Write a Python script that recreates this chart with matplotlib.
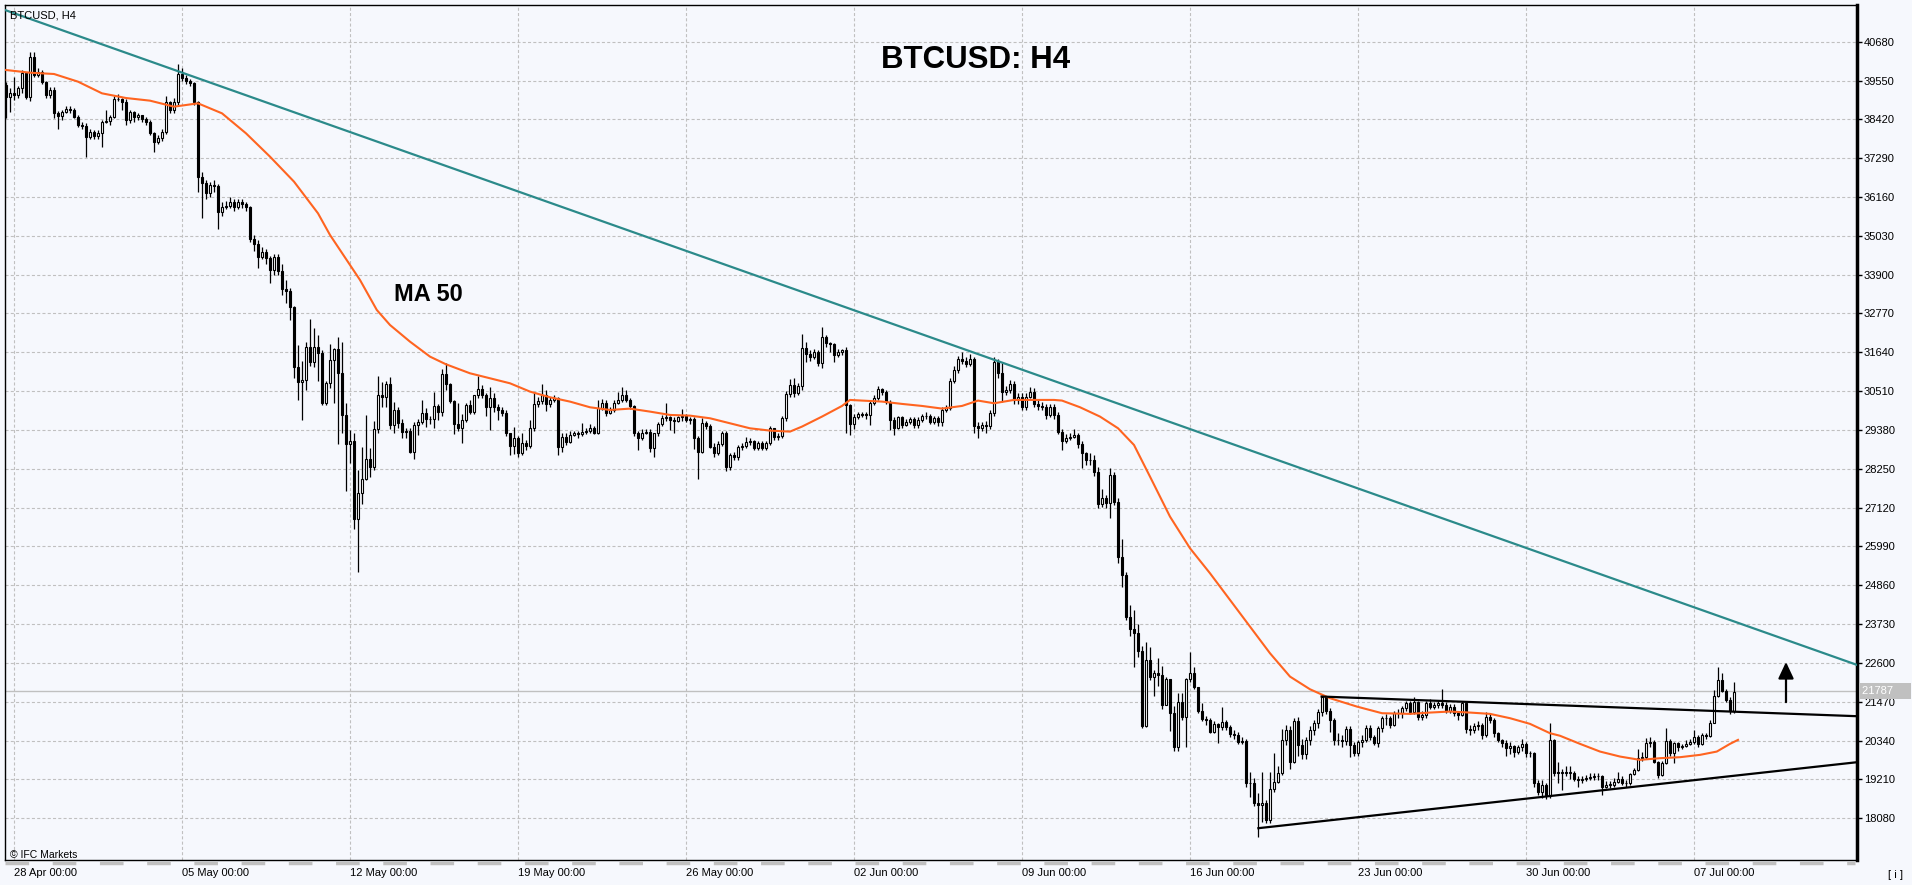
import numpy as np
import matplotlib.pyplot as plt
import matplotlib.transforms as mtransforms
from matplotlib.lines import Line2D

plt.rcParams['font.family'] = ['Liberation Sans', 'DejaVu Sans']
plt.rcParams['lines.scale_dashes'] = False

# H4 candles, first one is 27 Apr 16:00, one value per 4h bar
first_open = 39420
closes = [
    39080, 39196, 39130, 39323, 39759, 39080, 40244, 39711, 39808, 39516,
    39128, 39274, 38595, 38517, 38643, 38712, 38692, 38498, 38255, 38230,
    37897, 38042, 37945, 38013, 38353, 38380, 38479, 39002, 39022, 38925,
    38400, 38620, 38500, 38547, 38420, 38353, 38013, 37771, 37868, 38062,
    38934, 38692, 38934, 39740, 39614, 39546, 39468, 38934, 36752, 36560,
    36267, 36510, 36480, 35714, 35879, 35908, 36005, 35860, 36005, 35957,
    35860, 34938, 34783, 34424, 34550, 34375, 34036, 34424, 34017, 33473,
    33435, 32969, 31223, 30787, 30825, 31786, 31368, 31786, 31630, 30175,
    30738, 31417, 31737, 31029, 29817, 28963, 29070, 26780, 27537, 27944,
    28526, 28313, 29399, 30399, 30350, 30709, 29525, 29962, 29574, 29331,
    29351, 28730, 29525, 29622, 29865, 29700, 29690, 30088, 29914, 31010,
    30709, 30234, 29545, 29448, 29671, 30108, 29914, 30398, 30563, 30398,
    30040, 30300, 30040, 29962, 29884, 29283, 28914, 29137, 28701, 28992,
    28914, 29428, 30127, 30224, 30398, 30127, 30253, 30301, 28895, 29167,
    29041, 29235, 29283, 29264, 29331, 29351, 29448, 29302, 30011, 30156,
    29884, 29962, 30175, 30253, 30398, 30253, 30078, 29283, 29157, 29302,
    29320, 28846, 29283, 29555, 29720, 29768, 29671, 29651, 29768, 29790,
    29671, 29700, 29137, 28749, 29574, 29496, 28895, 28720, 28973, 29283,
    28313, 28652, 28584, 28875, 28900, 29041, 29060, 28866, 28992, 28846,
    29012, 29428, 29167, 29205, 29720, 30419, 30690, 30467, 30661, 31758,
    31593, 31515, 31661, 31340, 32078, 31903, 31884, 31563, 31660, 31709,
    30109, 29556, 29769, 29847, 29820, 29818, 30157, 30322, 30564, 30496,
    30206, 29672, 29449, 29750, 29526, 29624, 29691, 29526, 29672, 29788,
    29798, 29624, 29740, 29624, 29963, 30011, 30807, 31127, 31437, 31389,
    31302, 31437, 29497, 29430, 29527, 29500, 29885, 31350, 31049, 30496,
    30545, 30710, 30254, 30351, 30041, 30351, 30496, 30138, 30080, 30060,
    29818, 30060, 29818, 29333, 29061, 29158, 29187, 29236, 28974, 28702,
    28508, 28520, 28169, 27217, 27391, 27246, 28071, 27295, 25694, 25160,
    23929, 23579, 23463, 22959, 20776, 22687, 22202, 22318, 22250, 21377,
    22124, 21135, 20146, 21475, 21038, 22124, 22318, 21892, 21212, 20960,
    20940, 20602, 20824, 20727, 20893, 20747, 20533, 20505, 20311, 20340,
    19117, 19098, 18536, 18469, 18517, 18032, 18924, 19147, 19409, 20360,
    20651, 19730, 20900, 20200, 19950, 20350, 20650, 20850, 21180, 21620,
    21190, 20940, 20360, 20350, 20330, 20670, 20210, 19970, 20310, 20360,
    20700, 20450, 20260, 20700, 20990, 21000, 20800, 21140, 21140, 21280,
    21430, 21180, 21470, 21040, 21090, 21430, 21330, 21380, 21420, 21380,
    21210, 21330, 21140, 21090, 21420, 20670, 20650, 20770, 20800, 20500,
    21020, 20950, 20570, 20360, 20260, 20120, 20170, 20020, 20150, 20240,
    19970, 19970, 19100, 18850, 19050, 18760, 20360, 19409, 19400, 19410,
    19400, 19410, 19215, 19200, 19215, 19250, 19280, 19300, 19310, 19002,
    19050, 19050, 19147, 19215, 19118, 19100, 19370, 19487, 19827, 19875,
    20263, 20312, 19730, 19342, 19681, 20341, 19991, 20263, 20166, 20186,
    20244, 20312, 20457, 20244, 20505, 20480, 20864, 21640, 22106, 21795,
    21524, 21214, 21766,
]
highs = [
    39500, 39323, 39662, 39400, 39850, 39800, 40390, 40390, 39900, 39850,
    39550, 39350, 39350, 38650, 38700, 38800, 38800, 38750, 38550, 38350,
    38300, 38150, 38100, 38100, 38400, 38700, 38550, 39100, 39150, 39050,
    39000, 38700, 38650, 38600, 38550, 38500, 38400, 38050, 37950, 38150,
    39100, 38950, 39050, 40031, 39900, 39700, 39600, 39500, 38950, 36900,
    36650, 36600, 36650, 36550, 36000, 36050, 36150, 36100, 36100, 36100,
    36000, 35900, 35050, 34900, 34700, 34650, 34450, 34500, 34500, 34200,
    33745, 33500, 33000, 31854, 31388, 31950, 32600, 32338, 32145, 31708,
    30800, 31883, 31757, 32096, 31950, 30156, 29380, 29303, 28216, 28876,
    29817, 28846, 29642, 30952, 30786, 30806, 30932, 30205, 30050, 29700,
    29450, 29450, 29600, 29700, 30253, 30010, 29800, 30495, 30150, 31145,
    31320, 30750, 30250, 30175, 29850, 30156, 30250, 30398, 30951, 30689,
    30450, 30641, 30450, 30150, 30050, 29950, 29300, 29458, 29200, 29283,
    29100, 29671, 30495, 30350, 30709, 30544, 30350, 30400, 30350, 29300,
    29300, 29350, 29350, 29350, 29593, 29450, 29550, 29500, 30253, 30272,
    30250, 30050, 30250, 30495, 30641, 30544, 30300, 30100, 29350, 29400,
    29400, 29400, 29300, 29600, 29817, 30156, 29800, 29750, 29800, 29981,
    29850, 29750, 29750, 29200, 29720, 29650, 29550, 29000, 29050, 29350,
    29350, 28700, 28750, 28950, 29000, 29178, 29150, 29100, 29050, 29050,
    29050, 29500, 29450, 29300, 29800, 30500, 30855, 30884, 30750, 32175,
    31951, 31700, 31750, 31700, 32369, 32150, 31950, 31900, 31750, 31750,
    31800, 30150, 29850, 29900, 29900, 29900, 30250, 30400, 30661, 30600,
    30550, 30250, 29750, 29800, 29800, 29700, 29750, 29750, 29750, 29850,
    29900, 29850, 29800, 29800, 30050, 30100, 30900, 31250, 31534, 31660,
    31500, 31600, 31500, 29600, 29600, 29650, 29950, 31500, 31450, 31320,
    30650, 30836, 30800, 30450, 30450, 30450, 30623, 30600, 30250, 30200,
    30150, 30150, 30150, 29900, 29400, 29250, 29300, 29400, 29300, 29050,
    28750, 28700, 28650, 28300, 27653, 27500, 28264, 28150, 27400, 26198,
    25250, 24288, 24142, 23725, 23100, 23220, 23075, 22400, 22736, 22513,
    22200, 22100, 21349, 21717, 21717, 22150, 22930, 22474, 21900, 21445,
    21050, 21000, 20900, 20850, 21310, 20950, 20800, 20650, 20600, 20450,
    20400, 19438, 19245, 18827, 19439, 18600, 19439, 19972, 19600, 20670,
    20800, 20750, 20990, 21040, 20400, 20450, 20750, 20950, 21250, 21621,
    21650, 21300, 21000, 20550, 20500, 20750, 20750, 20300, 20350, 20500,
    20800, 20800, 20500, 20750, 21050, 21100, 21050, 21200, 21250, 21350,
    21500, 21500, 21600, 21500, 21200, 21500, 21550, 21450, 21500, 21834,
    21450, 21400, 21400, 21200, 21500, 21450, 20800, 20850, 20900, 20850,
    21185, 21100, 21000, 20600, 20400, 20350, 20300, 20200, 20200, 20380,
    20300, 20050, 20000, 19200, 19196, 19100, 20845, 20400, 19730, 19500,
    19603, 19603, 19450, 19300, 19300, 19350, 19400, 19400, 19400, 19350,
    19150, 19150, 19250, 19438, 19300, 19200, 19400, 19550, 20088, 20000,
    20408, 20450, 20350, 19750, 19750, 20700, 20400, 20300, 20300, 20250,
    20350, 20400, 20651, 20500, 20550, 20550, 20950, 21815, 22475, 22300,
    21850, 21600, 22057,
]
lows = [
    38450, 38644, 38983, 39050, 39200, 39000, 38960, 39650, 39650, 39450,
    39050, 39050, 38450, 38130, 38400, 38600, 38600, 38450, 38200, 38150,
    37334, 37850, 37850, 37850, 37620, 38300, 38250, 38450, 38950, 38700,
    38250, 38300, 38350, 38400, 38350, 38250, 37950, 37480, 37700, 37800,
    38000, 38600, 38600, 38850, 39550, 39450, 39400, 38850, 36296, 35539,
    36100, 36150, 36300, 35220, 35600, 35800, 35850, 35750, 35800, 35850,
    35750, 34850, 34600, 34100, 34350, 34200, 33650, 33900, 33900, 33300,
    33085, 32581, 30903, 30253, 29671, 30544, 31242, 31204, 30816, 30100,
    30107, 30592, 30156, 28973, 29303, 27615, 28410, 26490, 25238, 27227,
    27925, 28022, 28216, 29283, 30059, 30059, 29400, 29303, 29450, 29138,
    29138, 28720, 28526, 29234, 29550, 29477, 29550, 29428, 29671, 29800,
    30550, 30156, 29264, 29350, 29011, 29600, 29850, 29850, 30300, 30300,
    29787, 29380, 29900, 29671, 29800, 29200, 28653, 28682, 28585, 28650,
    28800, 28850, 29350, 30050, 30150, 29943, 30050, 30200, 28653, 28750,
    28950, 29000, 29200, 29150, 29200, 29250, 29300, 29250, 29250, 29950,
    29800, 29850, 29900, 30150, 30200, 30200, 30000, 29200, 28798, 29100,
    29250, 28750, 28585, 29200, 29500, 29650, 29380, 29283, 29600, 29650,
    29600, 29550, 28817, 27944, 28700, 29400, 28850, 28585, 28650, 28900,
    28200, 28216, 28500, 28500, 28800, 28850, 28950, 28800, 28800, 28800,
    28800, 28950, 29100, 29100, 29150, 29650, 30350, 30351, 30400, 30550,
    31370, 31400, 31450, 31250, 31175, 31800, 31650, 31350, 31500, 31550,
    29284, 29236, 29400, 29700, 29750, 29700, 29526, 30100, 30250, 30400,
    30150, 29381, 29236, 29400, 29450, 29500, 29550, 29450, 29450, 29600,
    29700, 29550, 29550, 29500, 29500, 29900, 29950, 30750, 31050, 31300,
    31200, 31250, 29284, 29139, 29350, 29284, 29400, 29800, 30900, 30206,
    30400, 30450, 30150, 30150, 29950, 29950, 30300, 30050, 29950, 29950,
    29700, 29750, 29700, 29250, 28799, 29000, 29100, 29150, 28850, 28265,
    28350, 28350, 28050, 27100, 27150, 27100, 26810, 27200, 25519, 24821,
    23850, 23386, 22493, 22784, 20700, 20747, 22100, 21640, 21930, 21251,
    21400, 20631, 20030, 20050, 20950, 20146, 22050, 21850, 21150, 20900,
    20800, 20550, 20550, 20262, 20650, 20650, 20450, 20400, 20250, 20250,
    19000, 18711, 18450, 17528, 17983, 17950, 17950, 18850, 19100, 19350,
    20200, 19500, 19700, 19900, 19800, 19800, 20200, 20500, 20700, 21050,
    21100, 20600, 20200, 20213, 20150, 20200, 19875, 19900, 19900, 20150,
    20300, 20350, 20200, 20150, 20600, 20800, 20700, 20750, 21000, 21000,
    21200, 21100, 21100, 20950, 20950, 21000, 21250, 21250, 21300, 21300,
    21150, 21150, 21050, 20950, 21050, 20550, 20500, 20550, 20650, 20400,
    20450, 20850, 20450, 20300, 20150, 19900, 19950, 19850, 19950, 20050,
    19850, 19850, 19000, 18750, 18663, 18650, 18663, 19300, 19100, 18905,
    19300, 19215, 19150, 19002, 19100, 19150, 19200, 19200, 19200, 18760,
    18950, 18950, 19000, 19100, 19050, 19002, 19050, 19350, 19450, 19750,
    19800, 20150, 19700, 19245, 19300, 19650, 19900, 19700, 20050, 20100,
    20150, 20200, 20250, 20150, 20200, 20400, 20450, 20850, 21600, 21750,
    21450, 21100, 21150,
]

# MA 50 (bar index, price)
ma_x = [0, 6, 12, 18, 24, 30, 36, 42, 48, 54, 60, 66, 72, 78, 81, 88.5, 92.7,
        96, 101, 106, 110, 116, 121, 126, 131, 136, 141, 146, 151, 156, 161,
        166, 171, 176, 181, 186, 191, 196, 199, 204, 209, 211, 214, 219, 224,
        229, 234, 239, 243, 247, 252, 257, 262, 264, 268.5, 273.5, 278, 282,
        286, 291, 296, 301, 306, 311, 316, 321, 326, 331, 337.7, 344, 351,
        356, 361, 366, 371, 376, 381, 386, 388.5, 393.5, 398.5, 403.5, 408.5,
        413.5, 418.5, 423.5, 427.7, 431, 433]
ma_val = [39856, 39778, 39740, 39517, 39177, 39041, 38964, 38789, 38886, 38595,
          38013, 37334, 36607, 35685, 35055, 33745, 32872, 32435, 31950, 31514,
          31291, 31029, 30884, 30738, 30496, 30331, 30205, 30040, 29962, 30001,
          29914, 29817, 29797, 29720, 29574, 29428, 29361, 29332, 29478, 29769,
          30079, 30254, 30235, 30206, 30138, 30079, 30002, 30079, 30235, 30157,
          30254, 30254, 30254, 30235, 30041, 29769, 29430, 28943, 28022, 26858,
          25937, 25209, 24433, 23657, 22881, 22202, 21833, 21573, 21330, 21136,
          21117, 21155, 21185, 21155, 21117, 20991, 20826, 20554, 20480, 20244,
          20020, 19875, 19778, 19827, 19856, 19924, 20020, 20244, 20360]

price_ticks = [40680, 39550, 38420, 37290, 36160, 35030, 33900, 32770, 31640,
               30510, 29380, 28250, 27120, 25990, 24860, 23730, 22600, 21470,
               20340, 19210, 18080]
date_pos = [2, 44, 86, 128, 170, 212, 254, 296, 338, 380, 422]
date_labels = ['28 Apr 00:00', '05 May 00:00', '12 May 00:00', '19 May 00:00',
               '26 May 00:00', '02 Jun 00:00', '09 Jun 00:00', '16 Jun 00:00',
               '23 Jun 00:00', '30 Jun 00:00', '07 Jul 00:00']

# trend lines, two anchor points each (bar index, price)
resist_pts = [(-0.25, 41602), (462.75, 22542)]
tri_top = [(328.9, 21621), (462.75, 21049)]
tri_bot = [(313.1, 17790), (462.75, 19710)]
last_price = 21787

bg = '#f6f8fd'
W, H = 1912, 885
fig = plt.figure(figsize=(W / 100, H / 100), dpi=100, facecolor=bg)
ax = fig.add_axes([5 / W, 25 / H, 1852 / W, 855 / H], facecolor=bg)

c = np.array(closes, dtype=float)
o = np.r_[first_open, c[:-1]]
hi = np.maximum(np.array(highs, dtype=float), np.maximum(o, c))
lo = np.minimum(np.array(lows, dtype=float), np.minimum(o, c))
x = np.arange(len(c))
up = c >= o
bot = np.minimum(o, c)
hgt = np.maximum(np.abs(c - o), 12)

ax.vlines(x, lo, hi, color='black', lw=0.9, zorder=3)
ax.bar(x[up], hgt[up], bottom=bot[up], width=0.6, facecolor='white',
       edgecolor='black', lw=0.8, zorder=4)
ax.bar(x[~up], hgt[~up], bottom=bot[~up], width=0.6, facecolor='black',
       edgecolor='black', lw=0.8, zorder=4)

ax.plot(ma_x, ma_val, color='#ff6420', lw=1.5, zorder=5)
ax.axline(resist_pts[0], resist_pts[1], color='#2b8a8a', lw=1.6, zorder=5)
ax.plot([p[0] for p in tri_top], [p[1] for p in tri_top], color='black', lw=1.6, zorder=5)
ax.plot([p[0] for p in tri_bot], [p[1] for p in tri_bot], color='black', lw=1.6, zorder=5)
ax.axhline(last_price, color='#c0c0c0', lw=1.0, zorder=2)

ax.annotate('', xy=(445, 22707), xytext=(445, 21378),
            arrowprops=dict(arrowstyle='-|>,head_length=1.0,head_width=0.47',
                            color='black', lw=1.6, mutation_scale=10), zorder=6)

ax.text(105.5, 33309, 'MA 50', fontsize=17, fontweight='bold', ha='center', va='center')
ax.text(242.5, 40147, 'BTCUSD: H4', fontsize=22.5, fontweight='bold', ha='center', va='center')

ax.set_xlim(-0.25, 462.75)
ax.set_ylim(16864, 41748)
ax.set_yticks(price_ticks)
ax.set_xticks(date_pos)
ax.set_xticklabels(date_labels, ha='left')
ax.yaxis.tick_right()
ax.tick_params(axis='y', direction='out', length=3.5, width=1, labelsize=8, pad=1.5)
ax.tick_params(axis='x', length=0, labelsize=8, pad=6)
ax.set_axisbelow(True)
ax.grid(True, color='#c0c0c0', ls=(0, (2.2, 1.6)), lw=0.8)
for s in ['left', 'top', 'bottom']:
    ax.spines[s].set_linewidth(1.0)
ax.spines['right'].set_linewidth(2.5)

tr = mtransforms.blended_transform_factory(ax.transAxes, ax.transData)
ax.text(1.0025, last_price, '21787     ', transform=tr, ha='left', va='center',
        color='white', fontsize=8,
        bbox=dict(boxstyle='square,pad=0.25', fc='#c0c0c0', ec='none'))

# date scale strip under the chart
fig.add_artist(Line2D([5 / W, 1855 / W], [1 - 862.5 / H] * 2, transform=fig.transFigure,
                      color='#c0c0c0', lw=2.5, dashes=(17, 17)))

fig.text(10 / W, 1 - 11 / H, 'BTCUSD, H4', fontsize=8, ha='left', va='top')
fig.text(10 / W, 1 - 855 / H, '\u00a9 IFC Markets', fontsize=7.5, ha='left', va='center')
fig.text(1895 / W, 1 - 875 / H, '[ i ]', fontsize=8, ha='center', va='center')

fig.savefig('out.png', dpi=100, facecolor=bg)
